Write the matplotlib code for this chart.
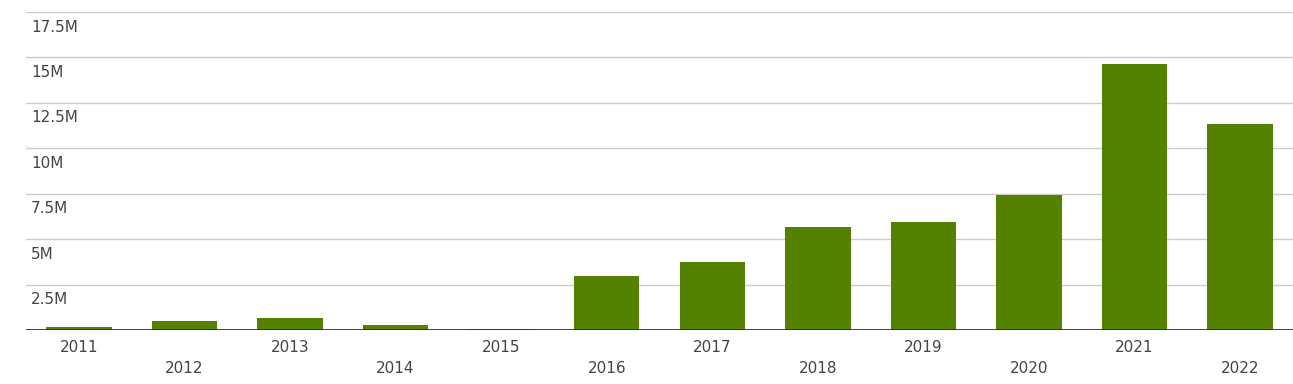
import matplotlib.pyplot as plt
import numpy as np

plt.rcParams['font.family'] = ['DejaVu Sans']

# 数据（从图上读出来的，单位 M）
years = ['2011', '2012', '2013', '2014', '2015', '2016',
         '2017', '2018', '2019', '2020', '2021', '2022']
values = [0.15, 0.50, 0.66, 0.28, 0.05, 2.97,
          3.74, 5.67, 5.94, 7.43, 14.64, 11.34]
y_ticks = [2.5, 5, 7.5, 10, 12.5, 15, 17.5]
y_tick_labels = ['2.5M', '5M', '7.5M', '10M', '12.5M', '15M', '17.5M']

fig = plt.figure(figsize=(12.93, 3.84), dpi=100)
ax = fig.add_axes([26 / 1293, 54 / 384, 1 - 26 / 1293, 318 / 384])

x = np.arange(len(years))
ax.bar(x, values, width=0.62, color='#548200', zorder=3)

ax.set_xlim(-0.5, len(years) - 0.5)
ax.set_ylim(0, 17.5)

# 网格线
for v in y_ticks:
    ax.axhline(v, color='#cccccc', linewidth=1, zorder=1)
ax.axhline(0, color='#333333', linewidth=1.3, zorder=4)

# y 轴标签放在图里面，网格线下面
for v, lab in zip(y_ticks, y_tick_labels):
    ax.annotate(lab, (0, v), xycoords=('axes fraction', 'data'),
                xytext=(3.5, -5.5), textcoords='offset points',
                ha='left', va='top', fontsize=11, color='#444444')

ax.set_yticks([])
for s in ax.spines.values():
    s.set_visible(False)

# x 标签交错两行
even = x[::2]
odd = x[1::2]
ax.set_xticks(even, [years[i] for i in even])
ax.set_xticks(odd, [years[i] for i in odd], minor=True)
ax.tick_params(axis='x', which='major', length=0, pad=7.5, labelsize=11, labelcolor='#444444')
ax.tick_params(axis='x', which='minor', length=0, pad=22.5, labelsize=11, labelcolor='#444444')

fig.savefig('out.png', dpi=100)
